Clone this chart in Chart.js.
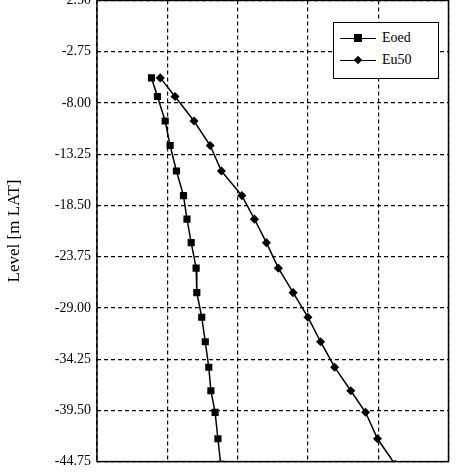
<!DOCTYPE html>
<html><head><script src="https://cdn.jsdelivr.net/npm/chart.js"></script>
<style>body{margin:0;background:#fff;overflow:hidden}#w{position:absolute;left:0;top:-14px;width:454px;height:490px}
#lg{position:absolute;left:333px;top:22px;width:104px;height:55px;border:1px solid #000;background:#fff;font:14px 'Liberation Serif';}
#lg div{position:relative;height:22px;line-height:22px;padding-left:48px;margin-top:4px}
#lg span.l{position:absolute;left:6px;top:11px;width:36px;border-top:1.5px solid #000}
#lg span.m{position:absolute;left:20px;top:7px;width:8px;height:8px;background:#000}
#lg span.d{transform:rotate(45deg);width:6px;height:6px;left:21px;top:8px}</style></head>
<body><div id="w"><canvas id="c"></canvas></div>
<div id="lg"><div><span class="l"></span><span class="m"></span>Eoed</div><div style="margin-top:0"><span class="l"></span><span class="m d"></span>Eu50</div></div>
<script>
const levels=[-5.44,-7.35,-9.86,-12.37,-14.98,-17.5,-19.91,-22.32,-24.93,-27.44,-29.96,-32.47,-35.08,-37.49,-39.7,-42.41,-45.03];
const eoed=[7.75,8.6,9.7,10.4,11.3,12.3,12.8,13.4,14.1,14.2,14.9,15.4,15.9,16.2,16.8,17.2,17.6];
const eu50=[9.0,11.1,13.8,16.1,17.7,20.6,22.4,24.1,25.8,27.9,30.0,31.8,33.8,36.1,38.2,39.9,42.4];
const yTicks=[2.5,-2.75,-8,-13.25,-18.5,-23.75,-29,-34.25,-39.5,-44.75];
const mk=v=>v.map((x,i)=>({x,y:levels[i]}));
const frame={id:'frame',afterDatasetsDraw(ch){const a=ch.chartArea,c=ch.ctx;c.save();c.strokeStyle='#000';c.lineWidth=1.5;c.setLineDash([]);c.strokeRect(a.left,a.top,a.right-a.left,a.bottom-a.top);c.restore();}};
new Chart(document.getElementById('c'),{type:'line',
data:{datasets:[
{label:'Eoed',data:mk(eoed),borderColor:'#000',backgroundColor:'#000',borderWidth:1.5,pointStyle:'rect',pointRadius:4,tension:0},
{label:'Eu50',data:mk(eu50),borderColor:'#000',backgroundColor:'#000',borderWidth:1.5,pointStyle:'rectRot',pointRadius:3.5,tension:0}]},
options:{responsive:true,maintainAspectRatio:false,animation:false,
layout:{padding:{top:10,bottom:10,right:0}},
plugins:{legend:{display:false},tooltip:{enabled:false}},
scales:{
x:{type:'linear',min:0,max:50,ticks:{display:false,stepSize:10},border:{display:false,dash:[4,3]},
 grid:{color:'#000',lineWidth:1.2,drawTicks:false}},
y:{type:'linear',min:-44.75,max:2.5,afterBuildTicks:a=>{a.ticks=yTicks.map(v=>({value:v}))},
 ticks:{color:'#000',font:{family:'Liberation Serif',size:14},callback:v=>v.toFixed(2),padding:6},
 border:{display:false,dash:[4,3]},
 grid:{color:'#000',lineWidth:1.2,drawTicks:false},
 title:{display:true,text:'Level [m LAT]',color:'#000',font:{family:'Liberation Serif',size:17}},
 afterFit:a=>{a.width=97}}}},
plugins:[frame]
});
</script>
</body></html>
